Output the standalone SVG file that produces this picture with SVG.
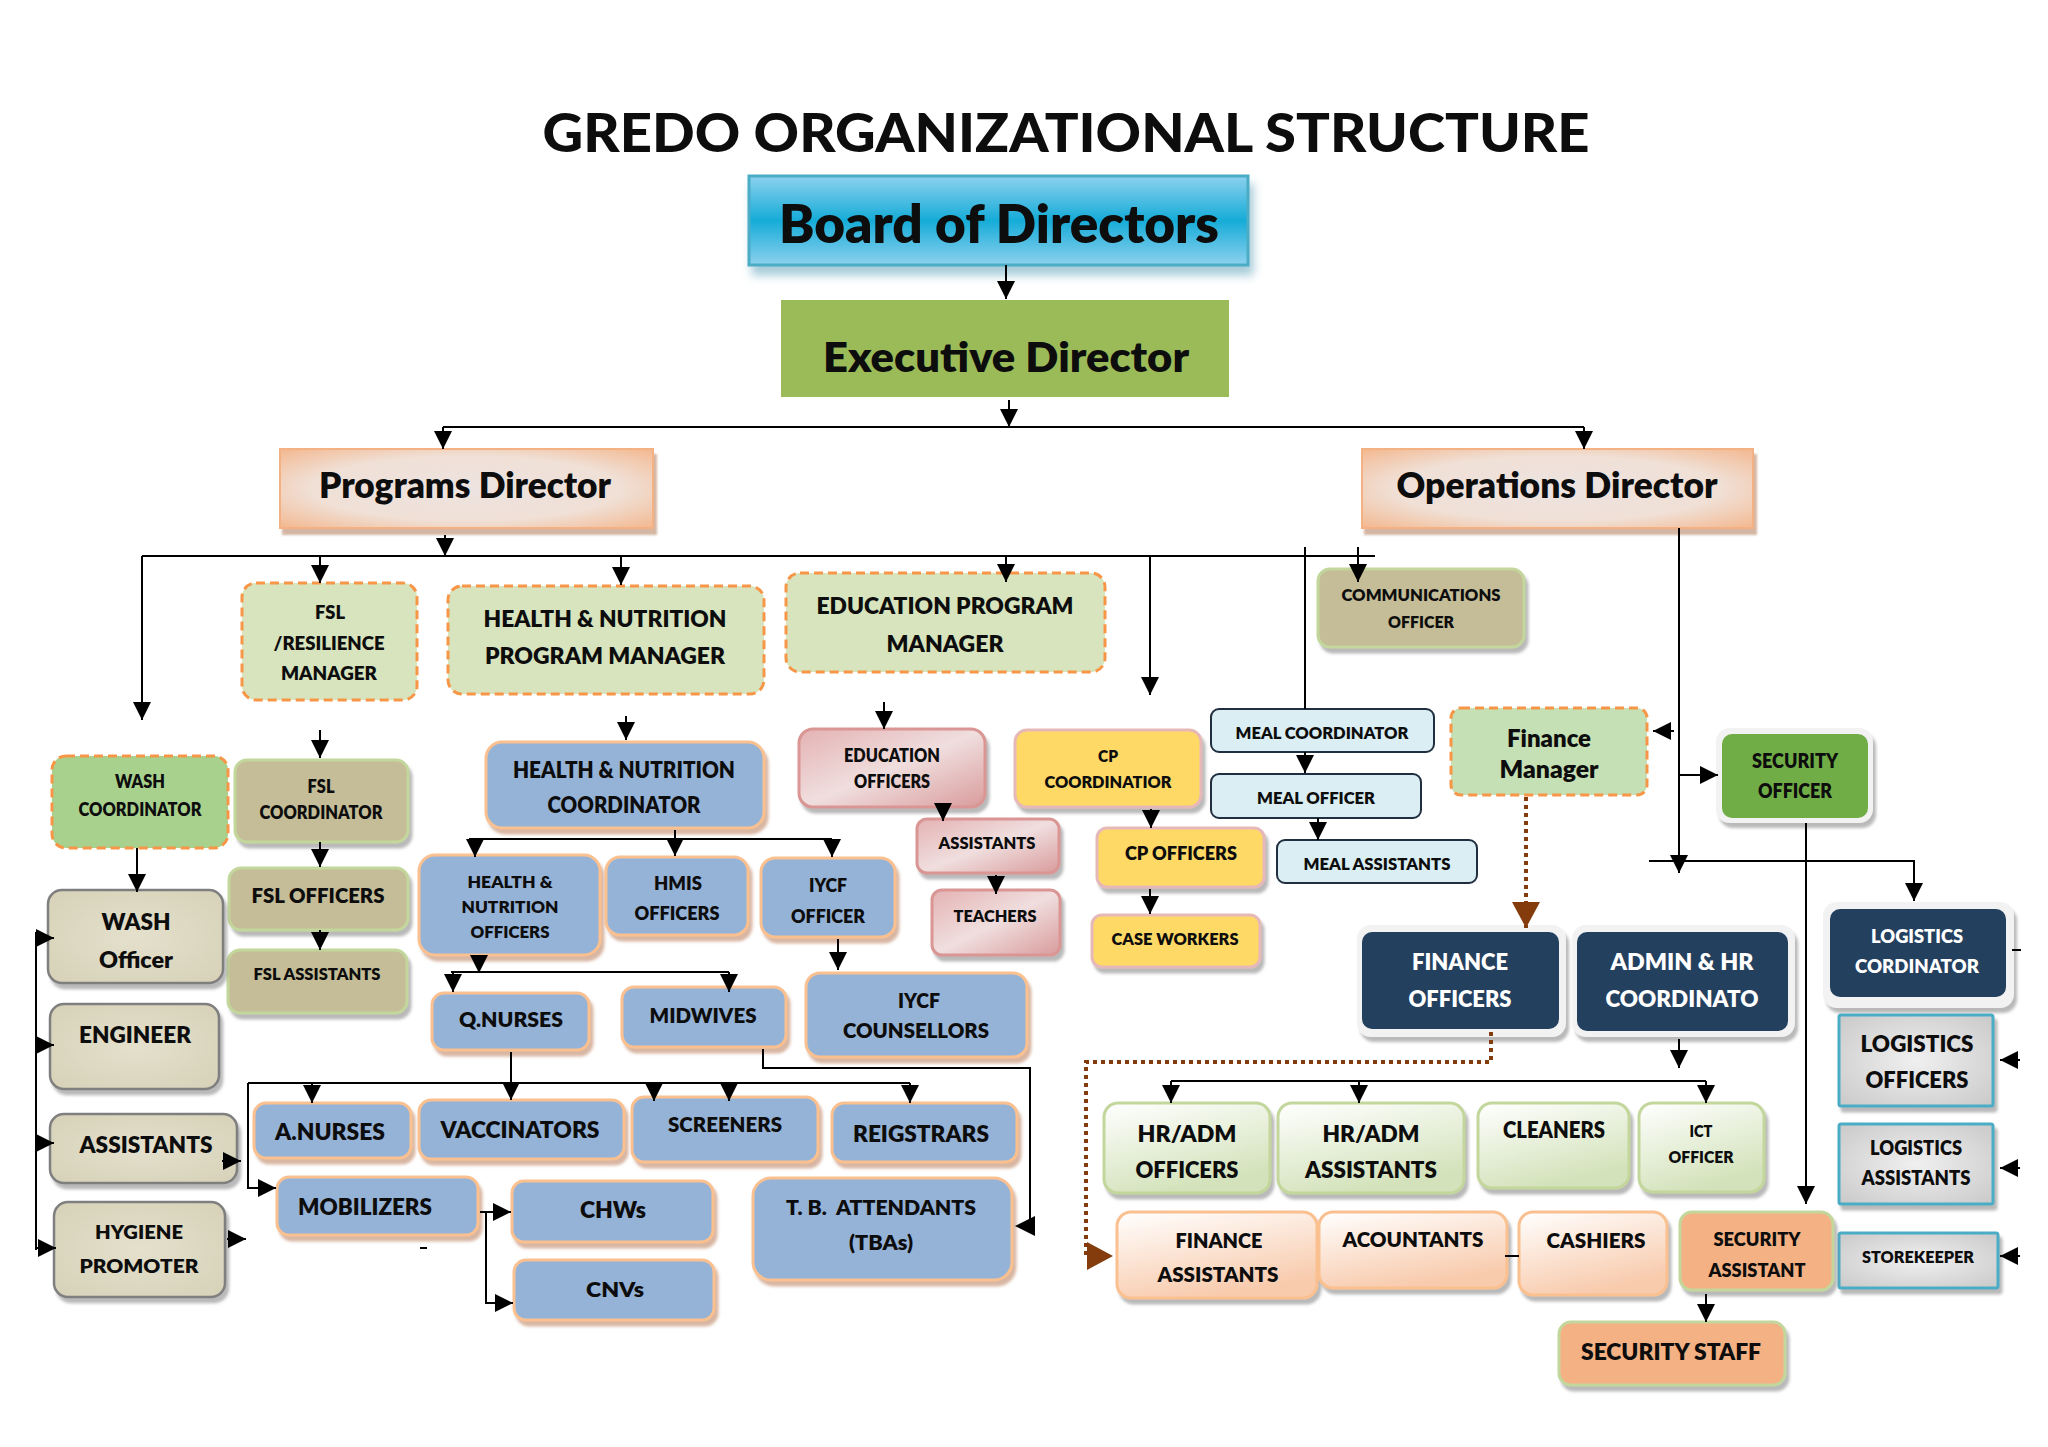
<svg xmlns="http://www.w3.org/2000/svg" width="2048" height="1447" viewBox="0 0 2048 1447">
<defs>
<style>
.t{font-family:Lato,"Open Sans","Liberation Sans",sans-serif;font-weight:800;fill:#0D0D0D;text-anchor:middle}
.w{fill:#FFFFFF}
.c{fill:none;stroke:#000;stroke-width:2}
.dot{fill:none;stroke:#843C0C;stroke-width:4;stroke-dasharray:4 4}
.pm{fill:#D7E4BD;stroke:#F79646;stroke-width:3;stroke-dasharray:9 5}
.wc{fill:#A9D18E;stroke:#F79646;stroke-width:3;stroke-dasharray:9 5}
.fm{fill:#C5E0B4;stroke:#F79646;stroke-width:3;stroke-dasharray:9 5}
.tan{fill:#C4BD97;stroke:#C3D69B;stroke-width:3;filter:url(#sh)}
.beige{fill:url(#gBeige);stroke:#7F7F7F;stroke-width:2.5;filter:url(#sh)}
.blue{fill:#95B3D7;stroke:#FAC090;stroke-width:3;filter:url(#shO)}
.pink{fill:url(#gPink);stroke:#D99694;stroke-width:3;filter:url(#sh)}
.yel{fill:#FFD966;stroke:#E6B9B8;stroke-width:3;filter:url(#sh)}
.meal{fill:#DAEEF3;stroke:#1F2F3F;stroke-width:2}
.navy{fill:#24405F}
.frame{fill:#F2F2F2;filter:url(#sh)}
.lgrey{fill:url(#gGrey);stroke:#4BACC6;stroke-width:3;filter:url(#sh)}
.hrg{fill:url(#gGreenW);stroke:#C3D69B;stroke-width:3;filter:url(#sh)}
.pch{fill:url(#gPeachW);stroke:#FAC090;stroke-width:3;filter:url(#sh)}
.sec{fill:#F4B183;stroke:#C3D69B;stroke-width:3;filter:url(#sh)}
.dir{fill:url(#gDir);stroke:#F4B183;stroke-width:2;filter:url(#shD)}
</style>
<filter id="sh" x="-10%" y="-10%" width="130%" height="140%"><feDropShadow dx="3" dy="5" stdDeviation="1.5" flood-color="#7F7F7F" flood-opacity="0.55"/></filter>
<filter id="shO" x="-10%" y="-10%" width="130%" height="140%"><feDropShadow dx="3" dy="5" stdDeviation="1.5" flood-color="#C8967A" flood-opacity="0.7"/></filter>
<filter id="shD" x="-10%" y="-10%" width="130%" height="140%"><feDropShadow dx="3" dy="6" stdDeviation="1" flood-color="#C9A48C" flood-opacity="0.8"/></filter>
<filter id="shB" x="-10%" y="-20%" width="130%" height="160%"><feDropShadow dx="4" dy="9" stdDeviation="5" flood-color="#7FB5C8" flood-opacity="0.7"/></filter>
<linearGradient id="gBoard" x1="0" y1="0" x2="0" y2="1"><stop offset="0" stop-color="#8DD1EE"/><stop offset="0.5" stop-color="#16ACD8"/><stop offset="1" stop-color="#8DD1EE"/></linearGradient>
<radialGradient id="gDir" cx="0.5" cy="0.5" r="0.75"><stop offset="0" stop-color="#EDE3E0"/><stop offset="0.55" stop-color="#F0E0D6"/><stop offset="1" stop-color="#F4B183"/></radialGradient>
<linearGradient id="gPink" x1="0" y1="0" x2="1" y2="1"><stop offset="0" stop-color="#E4B2B3"/><stop offset="0.5" stop-color="#F0DEDE"/><stop offset="1" stop-color="#D99B9C"/></linearGradient>
<linearGradient id="gGreenW" x1="0" y1="0" x2="0.4" y2="1"><stop offset="0" stop-color="#FFFFFF"/><stop offset="1" stop-color="#D3E2BA"/></linearGradient>
<linearGradient id="gPeachW" x1="0" y1="0" x2="0.4" y2="1"><stop offset="0" stop-color="#FFFFFF"/><stop offset="1" stop-color="#F8CBAD"/></linearGradient>
<radialGradient id="gGrey" cx="0.5" cy="0.5" r="0.7"><stop offset="0" stop-color="#F0F0F0"/><stop offset="1" stop-color="#C9C9C9"/></radialGradient>
<radialGradient id="gBeige" cx="0.5" cy="0.5" r="0.7"><stop offset="0" stop-color="#E4E0CC"/><stop offset="1" stop-color="#D6D1B7"/></radialGradient>
<marker id="ah" viewBox="0 0 18 18" refX="18" refY="9" markerWidth="18" markerHeight="18" markerUnits="userSpaceOnUse" orient="auto"><path d="M0,0L18,9L0,18z" fill="#000"/></marker>
<marker id="ahb" viewBox="0 0 26 28" refX="26" refY="14" markerWidth="26" markerHeight="28" markerUnits="userSpaceOnUse" orient="auto"><path d="M0,0L26,14L0,28z" fill="#843C0C"/></marker>
</defs>
<rect width="2048" height="1447" fill="#FFFFFF"/>

<text class="t" x="1066" y="152" font-size="54" style="font-weight:900" textLength="1047" lengthAdjust="spacingAndGlyphs">GREDO ORGANIZATIONAL STRUCTURE</text>

<g id="board"><rect x="749" y="176" width="499" height="89" fill="url(#gBoard)" stroke="#4BACC6" stroke-width="3" filter="url(#shB)"/>
<text class="t" x="999" y="243" font-size="52" textLength="440" lengthAdjust="spacingAndGlyphs">Board of Directors</text></g>
<g id="exec"><rect x="781" y="300" width="448" height="97" fill="#9BBB59"/>
<text class="t" x="1006" y="372" font-size="42" textLength="366" lengthAdjust="spacingAndGlyphs">Executive Director</text></g>
<g id="programs"><rect class="dir" x="280" y="449" width="373" height="79"/>
<text class="t" x="465" y="498" font-size="35" textLength="292" lengthAdjust="spacingAndGlyphs">Programs Director</text></g>
<g id="operations"><rect class="dir" x="1362" y="449" width="391" height="79"/>
<text class="t" x="1557" y="498" font-size="35" textLength="321" lengthAdjust="spacingAndGlyphs">Operations Director</text></g>

<g id="fsl-manager"><rect class="pm" x="242" y="583" width="175" height="117" rx="14"/>
<text class="t" x="330" y="619" font-size="19" textLength="30" lengthAdjust="spacingAndGlyphs">FSL</text>
<text class="t" x="329" y="650" font-size="19" textLength="111" lengthAdjust="spacingAndGlyphs">/RESILIENCE</text>
<text class="t" x="329" y="680" font-size="19" textLength="96" lengthAdjust="spacingAndGlyphs">MANAGER</text></g>
<g id="hn-manager"><rect class="pm" x="448" y="586" width="316" height="108" rx="14"/>
<text class="t" x="605" y="627" font-size="23" textLength="243" lengthAdjust="spacingAndGlyphs">HEALTH &amp; NUTRITION</text>
<text class="t" x="605" y="664" font-size="23" textLength="240" lengthAdjust="spacingAndGlyphs">PROGRAM MANAGER</text></g>
<g id="edu-manager"><rect class="pm" x="786" y="573" width="319" height="99" rx="14"/>
<text class="t" x="945" y="614" font-size="22" textLength="257" lengthAdjust="spacingAndGlyphs">EDUCATION PROGRAM</text>
<text class="t" x="945" y="652" font-size="22" textLength="117" lengthAdjust="spacingAndGlyphs">MANAGER</text></g>
<g id="communications"><rect class="tan" x="1318" y="569" width="206" height="78" rx="12"/>
<text class="t" x="1421" y="601" font-size="17" textLength="159" lengthAdjust="spacingAndGlyphs">COMMUNICATIONS</text>
<text class="t" x="1421" y="628" font-size="17" textLength="66" lengthAdjust="spacingAndGlyphs">OFFICER</text></g>

<g id="wash-coordinator"><rect class="wc" x="52" y="756" width="176" height="92" rx="14"/>
<text class="t" x="140" y="788" font-size="18.5" textLength="50" lengthAdjust="spacingAndGlyphs">WASH</text>
<text class="t" x="140" y="816" font-size="18.5" textLength="123" lengthAdjust="spacingAndGlyphs">COORDINATOR</text></g>
<g id="fsl-coordinator"><rect class="tan" x="235" y="760" width="173" height="82" rx="12"/>
<text class="t" x="321" y="793" font-size="18" textLength="27" lengthAdjust="spacingAndGlyphs">FSL</text>
<text class="t" x="321" y="819" font-size="18" textLength="123" lengthAdjust="spacingAndGlyphs">COORDINATOR</text></g>
<g id="fsl-officers"><rect class="tan" x="229" y="868" width="179" height="62" rx="12"/>
<text class="t" x="318" y="903" font-size="21" textLength="133" lengthAdjust="spacingAndGlyphs">FSL OFFICERS</text></g>
<g id="fsl-assistants"><rect class="tan" x="228" y="950" width="179" height="63" rx="12"/>
<text class="t" x="317" y="980" font-size="16.5" textLength="127" lengthAdjust="spacingAndGlyphs">FSL ASSISTANTS</text></g>

<g id="hn-coordinator"><rect class="blue" x="486" y="742" width="278" height="86" rx="16"/>
<text class="t" x="624" y="778" font-size="22" textLength="222" lengthAdjust="spacingAndGlyphs">HEALTH &amp; NUTRITION</text>
<text class="t" x="624" y="813" font-size="22" textLength="153" lengthAdjust="spacingAndGlyphs">COORDINATOR</text></g>
<g id="hn-officers"><rect class="blue" x="419" y="855" width="181" height="100" rx="16"/>
<text class="t" x="510" y="888" font-size="17" textLength="85" lengthAdjust="spacingAndGlyphs">HEALTH &amp;</text>
<text class="t" x="510" y="913" font-size="17" textLength="97" lengthAdjust="spacingAndGlyphs">NUTRITION</text>
<text class="t" x="510" y="938" font-size="17" textLength="79" lengthAdjust="spacingAndGlyphs">OFFICERS</text></g>
<g id="hmis-officers"><rect class="blue" x="606" y="857" width="142" height="78" rx="14"/>
<text class="t" x="678" y="890" font-size="18.5" textLength="48" lengthAdjust="spacingAndGlyphs">HMIS</text>
<text class="t" x="677" y="920" font-size="18.5" textLength="85" lengthAdjust="spacingAndGlyphs">OFFICERS</text></g>
<g id="iycf-officer"><rect class="blue" x="761" y="858" width="134" height="79" rx="14"/>
<text class="t" x="828" y="892" font-size="18.5" textLength="38" lengthAdjust="spacingAndGlyphs">IYCF</text>
<text class="t" x="828" y="923" font-size="18.5" textLength="74" lengthAdjust="spacingAndGlyphs">OFFICER</text></g>

<g id="education-officers"><rect class="pink" x="799" y="729" width="186" height="78" rx="14"/>
<text class="t" x="892" y="762" font-size="18" textLength="96" lengthAdjust="spacingAndGlyphs">EDUCATION</text>
<text class="t" x="892" y="788" font-size="18" textLength="76" lengthAdjust="spacingAndGlyphs">OFFICERS</text></g>
<g id="edu-assistants"><rect class="pink" x="917" y="819" width="142" height="54" rx="10"/>
<text class="t" x="987" y="849" font-size="17.5" textLength="97" lengthAdjust="spacingAndGlyphs">ASSISTANTS</text></g>
<g id="teachers"><rect class="pink" x="932" y="890" width="128" height="65" rx="10"/>
<text class="t" x="995" y="922" font-size="17" textLength="83" lengthAdjust="spacingAndGlyphs">TEACHERS</text></g>

<g id="cp-coordination"><rect class="yel" x="1015" y="730" width="186" height="77" rx="12"/>
<text class="t" x="1108" y="762" font-size="17" textLength="20" lengthAdjust="spacingAndGlyphs">CP</text>
<text class="t" x="1108" y="788" font-size="17" textLength="127" lengthAdjust="spacingAndGlyphs">COORDINATIOR</text></g>
<g id="cp-officers"><rect class="yel" x="1097" y="828" width="167" height="59" rx="10"/>
<text class="t" x="1181" y="860" font-size="18.5" textLength="112" lengthAdjust="spacingAndGlyphs">CP OFFICERS</text></g>
<g id="case-workers"><rect class="yel" x="1092" y="915" width="168" height="52" rx="10"/>
<text class="t" x="1175" y="945" font-size="17" textLength="127" lengthAdjust="spacingAndGlyphs">CASE WORKERS</text></g>

<g id="meal-coordinator"><rect class="meal" x="1211" y="709" width="223" height="43" rx="8"/>
<text class="t" x="1322" y="739" font-size="17.5" textLength="173" lengthAdjust="spacingAndGlyphs">MEAL COORDINATOR</text></g>
<g id="meal-officer"><rect class="meal" x="1211" y="774" width="210" height="44" rx="8"/>
<text class="t" x="1316" y="804" font-size="17.5" textLength="118" lengthAdjust="spacingAndGlyphs">MEAL OFFICER</text></g>
<g id="meal-assistants"><rect class="meal" x="1277" y="840" width="200" height="43" rx="8"/>
<text class="t" x="1377" y="870" font-size="17.5" textLength="147" lengthAdjust="spacingAndGlyphs">MEAL ASSISTANTS</text></g>

<g id="finance-manager"><rect class="fm" x="1451" y="708" width="196" height="87" rx="10"/>
<text class="t" x="1549" y="747" font-size="24" textLength="84" lengthAdjust="spacingAndGlyphs">Finance</text>
<text class="t" x="1549" y="778" font-size="24" textLength="99" lengthAdjust="spacingAndGlyphs">Manager</text></g>
<g id="security-officer"><rect class="frame" x="1716" y="728" width="157" height="95" rx="14"/>
<rect x="1722" y="734" width="146" height="84" rx="10" fill="#70AD47"/>
<text class="t" x="1795" y="768" font-size="20" textLength="86" lengthAdjust="spacingAndGlyphs">SECURITY</text>
<text class="t" x="1795" y="798" font-size="20" textLength="74" lengthAdjust="spacingAndGlyphs">OFFICER</text></g>

<g id="wash-officer"><rect class="beige" x="48" y="890" width="175" height="93" rx="14"/>
<text class="t" x="136" y="930" font-size="23" textLength="69" lengthAdjust="spacingAndGlyphs">WASH</text>
<text class="t" x="136" y="968" font-size="23" textLength="74" lengthAdjust="spacingAndGlyphs">Officer</text></g>
<g id="engineer"><rect class="beige" x="50" y="1004" width="169" height="85" rx="14"/>
<text class="t" x="135" y="1043" font-size="22" textLength="112" lengthAdjust="spacingAndGlyphs">ENGINEER</text></g>
<g id="assistants-wash"><rect class="beige" x="50" y="1114" width="187" height="69" rx="14"/>
<text class="t" x="146" y="1153" font-size="23" textLength="133" lengthAdjust="spacingAndGlyphs">ASSISTANTS</text></g>
<g id="hygiene-promoter"><rect class="beige" x="54" y="1202" width="171" height="95" rx="14"/>
<text class="t" x="139" y="1239" font-size="19.5" textLength="88" lengthAdjust="spacingAndGlyphs">HYGIENE</text>
<text class="t" x="139" y="1273" font-size="19.5" textLength="119" lengthAdjust="spacingAndGlyphs">PROMOTER</text></g>

<g id="q-nurses"><rect class="blue" x="432" y="993" width="157" height="57" rx="12"/>
<text class="t" x="511" y="1027" font-size="21" textLength="104" lengthAdjust="spacingAndGlyphs">Q.NURSES</text></g>
<g id="midwives"><rect class="blue" x="622" y="987" width="164" height="60" rx="12"/>
<text class="t" x="703" y="1023" font-size="21" textLength="107" lengthAdjust="spacingAndGlyphs">MIDWIVES</text></g>
<g id="iycf-counsellors"><rect class="blue" x="806" y="973" width="221" height="84" rx="14"/>
<text class="t" x="919" y="1008" font-size="21" textLength="42" lengthAdjust="spacingAndGlyphs">IYCF</text>
<text class="t" x="916" y="1038" font-size="21" textLength="146" lengthAdjust="spacingAndGlyphs">COUNSELLORS</text></g>
<g id="a-nurses"><rect class="blue" x="254" y="1103" width="157" height="55" rx="12"/>
<text class="t" x="330" y="1140" font-size="22" textLength="110" lengthAdjust="spacingAndGlyphs">A.NURSES</text></g>
<g id="vaccinators"><rect class="blue" x="419" y="1100" width="205" height="59" rx="12"/>
<text class="t" x="520" y="1138" font-size="23" textLength="159" lengthAdjust="spacingAndGlyphs">VACCINATORS</text></g>
<g id="screeners"><rect class="blue" x="632" y="1097" width="186" height="65" rx="12"/>
<text class="t" x="725" y="1132" font-size="21" textLength="114" lengthAdjust="spacingAndGlyphs">SCREENERS</text></g>
<g id="reigstrars"><rect class="blue" x="832" y="1103" width="185" height="59" rx="12"/>
<text class="t" x="921" y="1142" font-size="23" textLength="136" lengthAdjust="spacingAndGlyphs">REIGSTRARS</text></g>
<g id="mobilizers"><rect class="blue" x="277" y="1177" width="201" height="58" rx="12"/>
<text class="t" x="365" y="1215" font-size="23" textLength="134" lengthAdjust="spacingAndGlyphs">MOBILIZERS</text></g>
<g id="chws"><rect class="blue" x="512" y="1181" width="201" height="61" rx="12"/>
<text class="t" x="613" y="1218" font-size="22" textLength="66" lengthAdjust="spacingAndGlyphs">CHWs</text></g>
<g id="cnvs"><rect class="blue" x="514" y="1260" width="200" height="60" rx="12"/>
<text class="t" x="615" y="1297" font-size="21" textLength="58" lengthAdjust="spacingAndGlyphs">CNVs</text></g>
<g id="tb-attendants"><rect class="blue" x="753" y="1178" width="259" height="102" rx="18"/>
<text class="t" x="881" y="1215" font-size="21" textLength="190" lengthAdjust="spacingAndGlyphs" xml:space="preserve">T. B.  ATTENDANTS</text>
<text class="t" x="881" y="1250" font-size="21" textLength="64" lengthAdjust="spacingAndGlyphs">(TBAs)</text></g>

<g id="finance-officers"><rect class="frame" x="1357" y="925" width="209" height="112" rx="14"/>
<rect class="navy" x="1362" y="932" width="197" height="97" rx="10"/>
<text class="t w" x="1460" y="970" font-size="23" textLength="96" lengthAdjust="spacingAndGlyphs">FINANCE</text>
<text class="t w" x="1460" y="1007" font-size="23" textLength="103" lengthAdjust="spacingAndGlyphs">OFFICERS</text></g>
<g id="admin-hr"><rect class="frame" x="1572" y="925" width="223" height="112" rx="14"/>
<rect class="navy" x="1577" y="932" width="211" height="99" rx="10"/>
<text class="t w" x="1682" y="970" font-size="23" textLength="143" lengthAdjust="spacingAndGlyphs">ADMIN &amp; HR</text>
<text class="t w" x="1682" y="1007" font-size="23" textLength="153" lengthAdjust="spacingAndGlyphs">COORDINATO</text></g>
<g id="logistics-coordinator"><rect class="frame" x="1823" y="902" width="191" height="106" rx="14"/>
<rect class="navy" x="1830" y="909" width="176" height="88" rx="10"/>
<text class="t w" x="1917" y="943" font-size="19.5" textLength="92" lengthAdjust="spacingAndGlyphs">LOGISTICS</text>
<text class="t w" x="1917" y="973" font-size="19.5" textLength="124" lengthAdjust="spacingAndGlyphs">CORDINATOR</text></g>
<g id="logistics-officers"><rect class="lgrey" x="1839" y="1015" width="154" height="91" rx="2"/>
<text class="t" x="1917" y="1052" font-size="23" textLength="113" lengthAdjust="spacingAndGlyphs">LOGISTICS</text>
<text class="t" x="1917" y="1088" font-size="23" textLength="103" lengthAdjust="spacingAndGlyphs">OFFICERS</text></g>
<g id="logistics-assistants"><rect class="lgrey" x="1839" y="1124" width="154" height="80" rx="2"/>
<text class="t" x="1916" y="1155" font-size="20" textLength="92" lengthAdjust="spacingAndGlyphs">LOGISTICS</text>
<text class="t" x="1916" y="1185" font-size="20" textLength="109" lengthAdjust="spacingAndGlyphs">ASSISTANTS</text></g>
<g id="storekeeper"><rect class="lgrey" x="1839" y="1233" width="159" height="55" rx="2"/>
<text class="t" x="1918" y="1263" font-size="17.5" textLength="112" lengthAdjust="spacingAndGlyphs">STOREKEEPER</text></g>

<g id="hr-adm-officers"><rect class="hrg" x="1104" y="1103" width="166" height="90" rx="14"/>
<text class="t" x="1187" y="1142" font-size="23" textLength="99" lengthAdjust="spacingAndGlyphs">HR/ADM</text>
<text class="t" x="1187" y="1178" font-size="23" textLength="103" lengthAdjust="spacingAndGlyphs">OFFICERS</text></g>
<g id="hr-adm-assistants"><rect class="hrg" x="1278" y="1103" width="186" height="90" rx="14"/>
<text class="t" x="1371" y="1142" font-size="23" textLength="97" lengthAdjust="spacingAndGlyphs">HR/ADM</text>
<text class="t" x="1371" y="1178" font-size="23" textLength="132" lengthAdjust="spacingAndGlyphs">ASSISTANTS</text></g>
<g id="cleaners"><rect class="hrg" x="1478" y="1103" width="151" height="85" rx="14"/>
<text class="t" x="1554" y="1138" font-size="22" textLength="102" lengthAdjust="spacingAndGlyphs">CLEANERS</text></g>
<g id="ict-officer"><rect class="hrg" x="1639" y="1103" width="125" height="89" rx="14"/>
<text class="t" x="1701" y="1137" font-size="17.5" textLength="23" lengthAdjust="spacingAndGlyphs">ICT</text>
<text class="t" x="1701" y="1163" font-size="17.5" textLength="65" lengthAdjust="spacingAndGlyphs">OFFICER</text></g>

<g id="finance-assistants"><rect class="pch" x="1117" y="1212" width="200" height="86" rx="14"/>
<text class="t" x="1219" y="1248" font-size="21" textLength="87" lengthAdjust="spacingAndGlyphs">FINANCE</text>
<text class="t" x="1218" y="1282" font-size="21" textLength="121" lengthAdjust="spacingAndGlyphs">ASSISTANTS</text></g>
<g id="acountants"><rect class="pch" x="1319" y="1212" width="188" height="76" rx="14"/>
<text class="t" x="1413" y="1247" font-size="20.5" textLength="141" lengthAdjust="spacingAndGlyphs">ACOUNTANTS</text></g>
<g id="cashiers"><rect class="pch" x="1519" y="1212" width="148" height="83" rx="14"/>
<text class="t" x="1596" y="1248" font-size="21" textLength="99" lengthAdjust="spacingAndGlyphs">CASHIERS</text></g>
<g id="security-assistant"><rect class="sec" x="1680" y="1212" width="153" height="78" rx="12"/>
<text class="t" x="1757" y="1246" font-size="19.5" textLength="87" lengthAdjust="spacingAndGlyphs">SECURITY</text>
<text class="t" x="1757" y="1277" font-size="19.5" textLength="97" lengthAdjust="spacingAndGlyphs">ASSISTANT</text></g>
<g id="security-staff"><rect class="sec" x="1559" y="1322" width="226" height="63" rx="12"/>
<text class="t" x="1671" y="1360" font-size="23" textLength="180" lengthAdjust="spacingAndGlyphs">SECURITY STAFF</text></g>

<g id="connectors">
<line class="c" x1="1006" y1="265" x2="1006" y2="299" marker-end="url(#ah)"/>
<line class="c" x1="1009" y1="400" x2="1009" y2="427" marker-end="url(#ah)"/>
<path class="c" d="M443,427H1584"/>
<line class="c" x1="443" y1="427" x2="443" y2="449" marker-end="url(#ah)"/>
<line class="c" x1="1584" y1="427" x2="1584" y2="449" marker-end="url(#ah)"/>
<line class="c" x1="445" y1="535" x2="445" y2="556" marker-end="url(#ah)"/>
<path class="c" d="M142,556H1375"/>
<line class="c" x1="142" y1="556" x2="142" y2="720" marker-end="url(#ah)"/>
<line class="c" x1="320" y1="556" x2="320" y2="583" marker-end="url(#ah)"/>
<line class="c" x1="621" y1="556" x2="621" y2="585" marker-end="url(#ah)"/>
<line class="c" x1="1006" y1="556" x2="1006" y2="582" marker-end="url(#ah)"/>
<line class="c" x1="1150" y1="556" x2="1150" y2="695" marker-end="url(#ah)"/>
<line class="c" x1="1305" y1="547" x2="1305" y2="709"/>
<line class="c" x1="1358" y1="547" x2="1358" y2="582" marker-end="url(#ah)"/>
<line class="c" x1="1679" y1="528" x2="1679" y2="873" marker-end="url(#ah)"/>
<line class="c" x1="1674" y1="731" x2="1653" y2="731" marker-end="url(#ah)"/>
<line class="c" x1="1679" y1="775" x2="1718" y2="775" marker-end="url(#ah)"/>
<path class="c" d="M1649,861H1914V901" marker-end="url(#ah)"/>
<line class="c" x1="1806" y1="823" x2="1806" y2="1204" marker-end="url(#ah)"/>
<line class="dot" x1="1526" y1="797" x2="1526" y2="928" marker-end="url(#ahb)"/>
<path class="dot" d="M1491,1032V1062H1086V1256H1113" marker-end="url(#ahb)"/>
<line class="c" x1="137" y1="848" x2="137" y2="892" marker-end="url(#ah)"/>
<line class="c" x1="320" y1="730" x2="320" y2="758" marker-end="url(#ah)"/>
<line class="c" x1="320" y1="842" x2="320" y2="867" marker-end="url(#ah)"/>
<line class="c" x1="320" y1="930" x2="320" y2="950" marker-end="url(#ah)"/>
<path class="c" d="M36,932V1250"/>
<line class="c" x1="36" y1="938" x2="54" y2="938" marker-end="url(#ah)"/>
<line class="c" x1="36" y1="1045" x2="54" y2="1045" marker-end="url(#ah)"/>
<line class="c" x1="36" y1="1143" x2="54" y2="1143" marker-end="url(#ah)"/>
<line class="c" x1="36" y1="1248" x2="56" y2="1248" marker-end="url(#ah)"/>
<line class="c" x1="222" y1="1161" x2="241" y2="1161" marker-end="url(#ah)"/>
<line class="c" x1="227" y1="1239" x2="246" y2="1239" marker-end="url(#ah)"/>
<line class="c" x1="626" y1="716" x2="626" y2="740" marker-end="url(#ah)"/>
<line class="c" x1="675" y1="830" x2="675" y2="856" marker-end="url(#ah)"/>
<path class="c" d="M469,839H832"/>
<line class="c" x1="475" y1="839" x2="475" y2="857" marker-end="url(#ah)"/>
<line class="c" x1="832" y1="839" x2="832" y2="857" marker-end="url(#ah)"/>
<line class="c" x1="884" y1="702" x2="884" y2="729" marker-end="url(#ah)"/>
<line class="c" x1="943" y1="805" x2="943" y2="821" marker-end="url(#ah)"/>
<line class="c" x1="996" y1="875" x2="996" y2="894" marker-end="url(#ah)"/>
<line class="c" x1="1151" y1="809" x2="1151" y2="828" marker-end="url(#ah)"/>
<line class="c" x1="1150" y1="889" x2="1150" y2="914" marker-end="url(#ah)"/>
<line class="c" x1="1305" y1="752" x2="1305" y2="773" marker-end="url(#ah)"/>
<line class="c" x1="1318" y1="818" x2="1318" y2="840" marker-end="url(#ah)"/>
<line class="c" x1="838" y1="939" x2="838" y2="970" marker-end="url(#ah)"/>
<line class="c" x1="479" y1="955" x2="479" y2="973" marker-end="url(#ah)"/>
<path class="c" d="M451,972H729"/>
<line class="c" x1="453" y1="972" x2="453" y2="992" marker-end="url(#ah)"/>
<line class="c" x1="729" y1="972" x2="729" y2="992" marker-end="url(#ah)"/>
<line class="c" x1="511" y1="1052" x2="511" y2="1100" marker-end="url(#ah)"/>
<path class="c" d="M248,1083H910"/>
<line class="c" x1="312" y1="1083" x2="312" y2="1103" marker-end="url(#ah)"/>
<line class="c" x1="654" y1="1083" x2="654" y2="1101" marker-end="url(#ah)"/>
<line class="c" x1="729" y1="1083" x2="729" y2="1101" marker-end="url(#ah)"/>
<line class="c" x1="910" y1="1083" x2="910" y2="1103" marker-end="url(#ah)"/>
<path class="c" d="M248,1083V1188H276" marker-end="url(#ah)"/>
<line class="c" x1="480" y1="1212" x2="511" y2="1212" marker-end="url(#ah)"/>
<path class="c" d="M486,1212V1303H513" marker-end="url(#ah)"/>
<line class="c" x1="420" y1="1248" x2="427" y2="1248"/>
<path class="c" d="M763,1049V1068H1030V1233"/>
<polygon points="1015,1226 1035,1216 1035,1236" fill="#000"/>
<line class="c" x1="1679" y1="1039" x2="1679" y2="1068" marker-end="url(#ah)"/>
<path class="c" d="M1171,1081H1706"/>
<line class="c" x1="1171" y1="1081" x2="1171" y2="1103" marker-end="url(#ah)"/>
<line class="c" x1="1359" y1="1081" x2="1359" y2="1103" marker-end="url(#ah)"/>
<line class="c" x1="1706" y1="1081" x2="1706" y2="1103" marker-end="url(#ah)"/>
<line class="c" x1="1706" y1="1294" x2="1706" y2="1322" marker-end="url(#ah)"/>
<line class="c" x1="1505" y1="1256" x2="1519" y2="1256"/>
<line class="c" x1="2020" y1="1060" x2="2000" y2="1060" marker-end="url(#ah)"/>
<line class="c" x1="2020" y1="1168" x2="2000" y2="1168" marker-end="url(#ah)"/>
<line class="c" x1="2020" y1="1256" x2="2000" y2="1256" marker-end="url(#ah)"/>
<line class="c" x1="2012" y1="950" x2="2021" y2="950"/>
</g>
</svg>
